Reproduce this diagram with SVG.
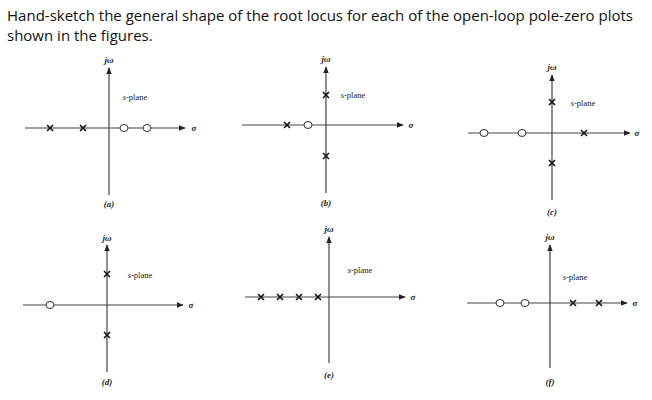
<svg xmlns="http://www.w3.org/2000/svg" width="652" height="400" viewBox="0 0 652 400">
<style>
.ax{stroke:#444;stroke-width:1.2;fill:none}
.z{stroke:#333;stroke-width:1;fill:#fff}
.t{font-family:"Liberation Serif",serif;font-size:8.5px;fill:#222;text-anchor:middle}
.it{font-family:"Liberation Serif",serif;font-style:italic;font-weight:bold;font-size:9px;fill:#222;text-anchor:middle}
.h{font-family:"Open Sans","Liberation Sans",sans-serif;font-size:15px;fill:#111}
</style>
<defs>
<marker id="ar" viewBox="0 0 10 10" refX="9" refY="5" markerWidth="7" markerHeight="7" orient="auto-start-reverse" markerUnits="userSpaceOnUse"><path d="M0,1 L10,5 L0,9 Z" fill="#222"/></marker>
<g id="px"><path d="M-3,-3 L3,3 M-3,3 L3,-3" stroke="#111" stroke-width="1.6"/></g>
</defs>
<rect width="652" height="400" fill="#fff"/>
<text class="h" x="7" y="21" textLength="626" lengthAdjust="spacingAndGlyphs">Hand-sketch the general shape of the root locus for each of the open-loop pole-zero plots</text>
<text class="h" x="7" y="41">shown in the figures.</text>
<g id="connectors">
<line class="ax" x1="25" y1="128" x2="185" y2="128" marker-end="url(#ar)"/>
<line class="ax" x1="109" y1="195" x2="109" y2="68" marker-end="url(#ar)"/>
<line class="ax" x1="242" y1="125" x2="403" y2="125" marker-end="url(#ar)"/>
<line class="ax" x1="326" y1="193" x2="326" y2="67" marker-end="url(#ar)"/>
<line class="ax" x1="468" y1="133" x2="630" y2="133" marker-end="url(#ar)"/>
<line class="ax" x1="552" y1="200" x2="552" y2="75" marker-end="url(#ar)"/>
<line class="ax" x1="23" y1="305" x2="183" y2="305" marker-end="url(#ar)"/>
<line class="ax" x1="107" y1="372" x2="107" y2="245" marker-end="url(#ar)"/>
<line class="ax" x1="245" y1="297" x2="405" y2="297" marker-end="url(#ar)"/>
<line class="ax" x1="329" y1="363" x2="329" y2="237" marker-end="url(#ar)"/>
<line class="ax" x1="467" y1="303" x2="627" y2="303" marker-end="url(#ar)"/>
<line class="ax" x1="550" y1="368" x2="550" y2="245" marker-end="url(#ar)"/>
</g>
<g id="plot-a">
<use href="#px" x="50" y="128"/><use href="#px" x="83" y="128"/>
<ellipse class="z" cx="124" cy="128" rx="4" ry="3.5"/><ellipse class="z" cx="147" cy="128" rx="4" ry="3.5"/>
<text class="it" x="109" y="63">jω</text><text class="t" x="135" y="100"><tspan font-style="italic">s</tspan>-plane</text>
<text class="it" x="194" y="131">σ</text><text class="it" x="109" y="207">(a)</text>
</g>
<g id="plot-b">
<use href="#px" x="326" y="95"/><use href="#px" x="326" y="156"/><use href="#px" x="287" y="125"/>
<ellipse class="z" cx="308" cy="125" rx="4" ry="3.5"/>
<text class="it" x="326" y="62">jω</text><text class="t" x="353" y="98"><tspan font-style="italic">s</tspan>-plane</text>
<text class="it" x="411" y="128">σ</text><text class="it" x="326" y="206">(b)</text>
</g>
<g id="plot-c">
<use href="#px" x="552" y="102"/><use href="#px" x="552" y="163"/><use href="#px" x="584" y="133"/>
<ellipse class="z" cx="484" cy="133" rx="4" ry="3.5"/><ellipse class="z" cx="522" cy="133" rx="4" ry="3.5"/>
<text class="it" x="552" y="70">jω</text><text class="t" x="583" y="106"><tspan font-style="italic">s</tspan>-plane</text>
<text class="it" x="637" y="136">σ</text><text class="it" x="552" y="215">(c)</text>
</g>
<g id="plot-d">
<use href="#px" x="107" y="274"/><use href="#px" x="107" y="335"/>
<ellipse class="z" cx="50" cy="305" rx="4" ry="3.5"/>
<text class="it" x="107" y="241">jω</text><text class="t" x="140" y="278"><tspan font-style="italic">s</tspan>-plane</text>
<text class="it" x="191" y="308">σ</text><text class="it" x="107" y="385">(d)</text>
</g>
<g id="plot-e">
<use href="#px" x="261" y="297"/><use href="#px" x="280" y="297"/><use href="#px" x="299" y="297"/><use href="#px" x="318" y="297"/>
<text class="it" x="329" y="232">jω</text><text class="t" x="360" y="273"><tspan font-style="italic">s</tspan>-plane</text>
<text class="it" x="413" y="300">σ</text><text class="it" x="329" y="378">(e)</text>
</g>
<g id="plot-f">
<use href="#px" x="573" y="303"/><use href="#px" x="599" y="303"/>
<ellipse class="z" cx="500" cy="303" rx="4" ry="3.5"/><ellipse class="z" cx="525" cy="303" rx="4" ry="3.5"/>
<text class="it" x="550" y="240">jω</text><text class="t" x="575" y="280"><tspan font-style="italic">s</tspan>-plane</text>
<text class="it" x="635" y="306">σ</text><text class="it" x="550" y="385">(f)</text>
</g>
</svg>
